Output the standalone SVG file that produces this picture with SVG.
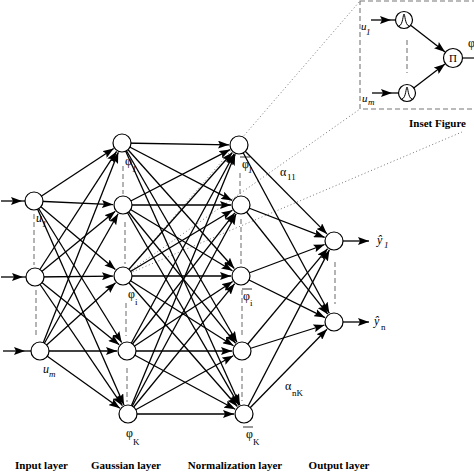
<svg xmlns="http://www.w3.org/2000/svg" width="474" height="474" viewBox="0 0 474 474">
<style>
.e{stroke:#000;stroke-width:1.3;fill:none;marker-end:url(#ah)}
.n{fill:#fff;stroke:#000;stroke-width:1.2}
.d{stroke:#777;stroke-width:1.1;stroke-dasharray:5 3;fill:none}
.dt{stroke:#777;stroke-width:1;stroke-dasharray:1 2.5;fill:none}
.t{font-family:"Liberation Serif",serif;fill:#000}
.b{font-family:"Liberation Serif",serif;font-weight:bold;font-size:11px;fill:#000;text-anchor:middle}
.g{font-size:12px}
.s{font-size:9px}
.i{font-style:italic}
.mid{stroke:#000;stroke-width:1.3;fill:none;marker-mid:url(#ah)}
</style>
<defs>
<marker id="ah" markerUnits="userSpaceOnUse" markerWidth="11" markerHeight="8" refX="11" refY="4" orient="auto">
<path d="M0,0 L11,4 L0,8 L2,4 z" fill="#000"/>
</marker>
</defs>
<rect width="474" height="474" fill="#fff"/>

<g id="dotted">
<line class="dt" x1="123" y1="276" x2="360" y2="1"/>
<line class="dt" x1="123" y1="276" x2="360" y2="109"/>
<line class="dt" x1="123" y1="276" x2="462" y2="132"/>
</g>

<g id="connectors">
<line class="e" x1="34" y1="201" x2="113.7" y2="148.5"/>
<line class="e" x1="34" y1="201" x2="113" y2="204.6"/>
<line class="e" x1="34" y1="201" x2="115.4" y2="269.6"/>
<line class="e" x1="34" y1="201" x2="121.7" y2="342.5"/>
<line class="e" x1="34" y1="201" x2="124" y2="404.9"/>
<line class="e" x1="35" y1="277" x2="116.6" y2="151.4"/>
<line class="e" x1="35" y1="277" x2="115.3" y2="211.3"/>
<line class="e" x1="35" y1="277" x2="113" y2="276.1"/>
<line class="e" x1="35" y1="277" x2="119.2" y2="344.7"/>
<line class="e" x1="35" y1="277" x2="122.4" y2="405.7"/>
<line class="e" x1="40" y1="351" x2="118.3" y2="152.3"/>
<line class="e" x1="40" y1="351" x2="118.1" y2="213.7"/>
<line class="e" x1="40" y1="351" x2="115.6" y2="282.7"/>
<line class="e" x1="40" y1="351" x2="117" y2="351"/>
<line class="e" x1="40" y1="351" x2="119.9" y2="408.2"/>

<line class="e" x1="122" y1="143" x2="229" y2="144.8"/>
<line class="e" x1="122" y1="143" x2="232.1" y2="200.4"/>
<line class="e" x1="122" y1="143" x2="234.3" y2="268.5"/>
<line class="e" x1="122" y1="143" x2="237" y2="342.3"/>
<line class="e" x1="122" y1="143" x2="239.9" y2="404.9"/>
<line class="e" x1="123" y1="205" x2="230.1" y2="149.6"/>
<line class="e" x1="123" y1="205" x2="231" y2="205"/>
<line class="e" x1="123" y1="205" x2="232.4" y2="270.8"/>
<line class="e" x1="123" y1="205" x2="235.7" y2="343.3"/>
<line class="e" x1="123" y1="205" x2="239" y2="405.3"/>
<line class="e" x1="123" y1="276" x2="232.4" y2="152.5"/>
<line class="e" x1="123" y1="276" x2="232.4" y2="210.2"/>
<line class="e" x1="123" y1="276" x2="231" y2="276"/>
<line class="e" x1="123" y1="276" x2="233.5" y2="345.7"/>
<line class="e" x1="123" y1="276" x2="237.4" y2="406.5"/>
<line class="e" x1="127" y1="351" x2="234.2" y2="153.8"/>
<line class="e" x1="127" y1="351" x2="234.8" y2="212.9"/>
<line class="e" x1="127" y1="351" x2="232.7" y2="281.5"/>
<line class="e" x1="127" y1="351" x2="232" y2="351"/>
<line class="e" x1="127" y1="351" x2="235.2" y2="409.3"/>
<line class="e" x1="128" y1="414" x2="235.2" y2="154.2"/>
<line class="e" x1="128" y1="414" x2="236.2" y2="213.8"/>
<line class="e" x1="128" y1="414" x2="234.7" y2="283.7"/>
<line class="e" x1="128" y1="414" x2="233.2" y2="355.8"/>
<line class="e" x1="128" y1="414" x2="234" y2="414"/>

<line class="e" x1="239" y1="145" x2="327" y2="233.9"/>
<line class="e" x1="241" y1="205" x2="324.7" y2="237.4"/>
<line class="e" x1="241" y1="276" x2="324.6" y2="244.5"/>
<line class="e" x1="242" y1="351" x2="327.6" y2="248.7"/>
<line class="e" x1="244" y1="414" x2="329.4" y2="249.9"/>
<line class="e" x1="239" y1="145" x2="329.3" y2="313.2"/>
<line class="e" x1="241" y1="205" x2="327.8" y2="314.2"/>
<line class="e" x1="241" y1="276" x2="325" y2="317.6"/>
<line class="e" x1="242" y1="351" x2="324.5" y2="325"/>
<line class="e" x1="244" y1="414" x2="327" y2="329.2"/>

<path class="mid" d="M1,201 L22,201 L25,201"/>
<path class="mid" d="M1,277 L23,277 L26,277"/>
<path class="mid" d="M3,351 L25,351 L31,351"/>
<line class="e" x1="343" y1="241" x2="369" y2="241"/>
<line class="e" x1="343" y1="322" x2="369" y2="322"/>

<path class="mid" d="M371,20 L391,20 L396,20"/>
<path class="mid" d="M372,93 L392,93 L399,93"/>
<line class="e" x1="410.3" y1="24.9" x2="445.1" y2="51.9"/>
<line class="e" x1="413.4" y1="88.2" x2="445" y2="64.1"/>
<line stroke="#000" stroke-width="1.2" x1="463" y1="58" x2="474" y2="58"/>
</g>

<g id="dashes">
<line class="d" x1="34" y1="214" x2="34" y2="265"/>
<line class="d" x1="36" y1="290" x2="36" y2="338"/>
<line class="d" x1="123" y1="166" x2="123" y2="194"/>
<line class="d" x1="125" y1="222" x2="125" y2="264"/>
<line class="d" x1="126" y1="303" x2="126" y2="336"/>
<line class="d" x1="127" y1="368" x2="127" y2="402"/>
<line class="d" x1="240" y1="173" x2="240" y2="194"/>
<line class="d" x1="241" y1="219" x2="241" y2="264"/>
<line class="d" x1="242" y1="290" x2="242" y2="338"/>
<line class="d" x1="242" y1="368" x2="242" y2="401"/>
<line class="d" x1="335" y1="262" x2="335" y2="304"/>
<line class="d" x1="407" y1="40" x2="407" y2="73"/>
<rect class="d" x="360" y="1" width="122" height="108"/>
</g>

<g id="input1"><circle class="n" cx="34" cy="201" r="9"/></g>
<g id="input2"><circle class="n" cx="35" cy="277" r="9"/></g>
<g id="input3"><circle class="n" cx="40" cy="351" r="9"/></g>
<g id="gauss1"><circle class="n" cx="122" cy="143" r="9"/></g>
<g id="gauss2"><circle class="n" cx="123" cy="205" r="9"/></g>
<g id="gauss3"><circle class="n" cx="123" cy="276" r="9"/></g>
<g id="gauss4"><circle class="n" cx="127" cy="351" r="9"/></g>
<g id="gauss5"><circle class="n" cx="128" cy="414" r="9"/></g>
<g id="norm1"><circle class="n" cx="239" cy="145" r="9"/></g>
<g id="norm2"><circle class="n" cx="241" cy="205" r="9"/></g>
<g id="norm3"><circle class="n" cx="241" cy="276" r="9"/></g>
<g id="norm4"><circle class="n" cx="242" cy="351" r="9"/></g>
<g id="norm5"><circle class="n" cx="244" cy="414" r="9"/></g>
<g id="out1"><circle class="n" cx="334" cy="241" r="9"/></g>
<g id="out2"><circle class="n" cx="334" cy="322" r="9"/></g>

<g id="inset-g1"><circle class="n" cx="404" cy="20" r="8.5"/>
<path d="M399,26 C403,25 403,14 404,14 C405,14 405,25 409,26" stroke="#000" stroke-width="1" fill="none"/></g>
<g id="inset-g2"><circle class="n" cx="407" cy="93" r="8.5"/>
<path d="M402,99 C406,98 406,87 407,87 C408,87 408,98 412,99" stroke="#000" stroke-width="1" fill="none"/></g>
<g id="inset-prod"><circle class="n" cx="453" cy="58" r="9.5"/>
<text class="t" x="453" y="62" font-size="11" text-anchor="middle">Π</text></g>

<g id="labels">
<text class="t i g" x="36" y="222">u</text><text class="t i s" x="42" y="227">1</text>
<text class="t i g" x="43" y="373">u</text><text class="t i s" x="49" y="377">m</text>
<text class="t g" x="125" y="165">φ</text><text class="t i s" x="132" y="172">1</text>
<text class="t g" x="128" y="298">φ</text><text class="t s" x="135" y="305">i</text>
<text class="t g" x="126" y="437">φ</text><text class="t s" x="133" y="445">K</text>
<line x1="240" y1="157" x2="250" y2="157" stroke="#000" stroke-width="0.8"/>
<text class="t g" x="242" y="168">φ</text><text class="t i s" x="248" y="173">1</text>
<line x1="242" y1="289" x2="252" y2="289" stroke="#000" stroke-width="0.8"/>
<text class="t g" x="243" y="300">φ</text><text class="t s" x="250" y="306">i</text>
<line x1="243" y1="427" x2="253" y2="427" stroke="#000" stroke-width="0.8"/>
<text class="t g" x="246" y="438">φ</text><text class="t s" x="253" y="445">K</text>
<text class="t g" x="280" y="176">α</text><text class="t s" x="287" y="180">11</text>
<text class="t g" x="285" y="390">α</text><text class="t s" x="292" y="396">nK</text>
<text class="t i g" x="377" y="244">ŷ</text><text class="t i s" x="384" y="248">1</text>
<text class="t i g" x="374" y="325">ŷ</text><text class="t s" x="381" y="330">n</text>
<text class="t i" font-size="11" x="361" y="30">u</text><text class="t i s" x="366" y="35">1</text>
<text class="t i" font-size="11" x="362" y="102">u</text><text class="t i s" x="368" y="105">m</text>
<text class="t g" x="468" y="47">φ</text>
<text class="b" x="437.5" y="127">Inset Figure</text>
<text class="b" x="41.5" y="469">Input layer</text>
<text class="b" x="126" y="469">Gaussian layer</text>
<text class="b" x="235" y="469">Normalization layer</text>
<text class="b" x="339" y="469">Output layer</text>
</g>
</svg>
